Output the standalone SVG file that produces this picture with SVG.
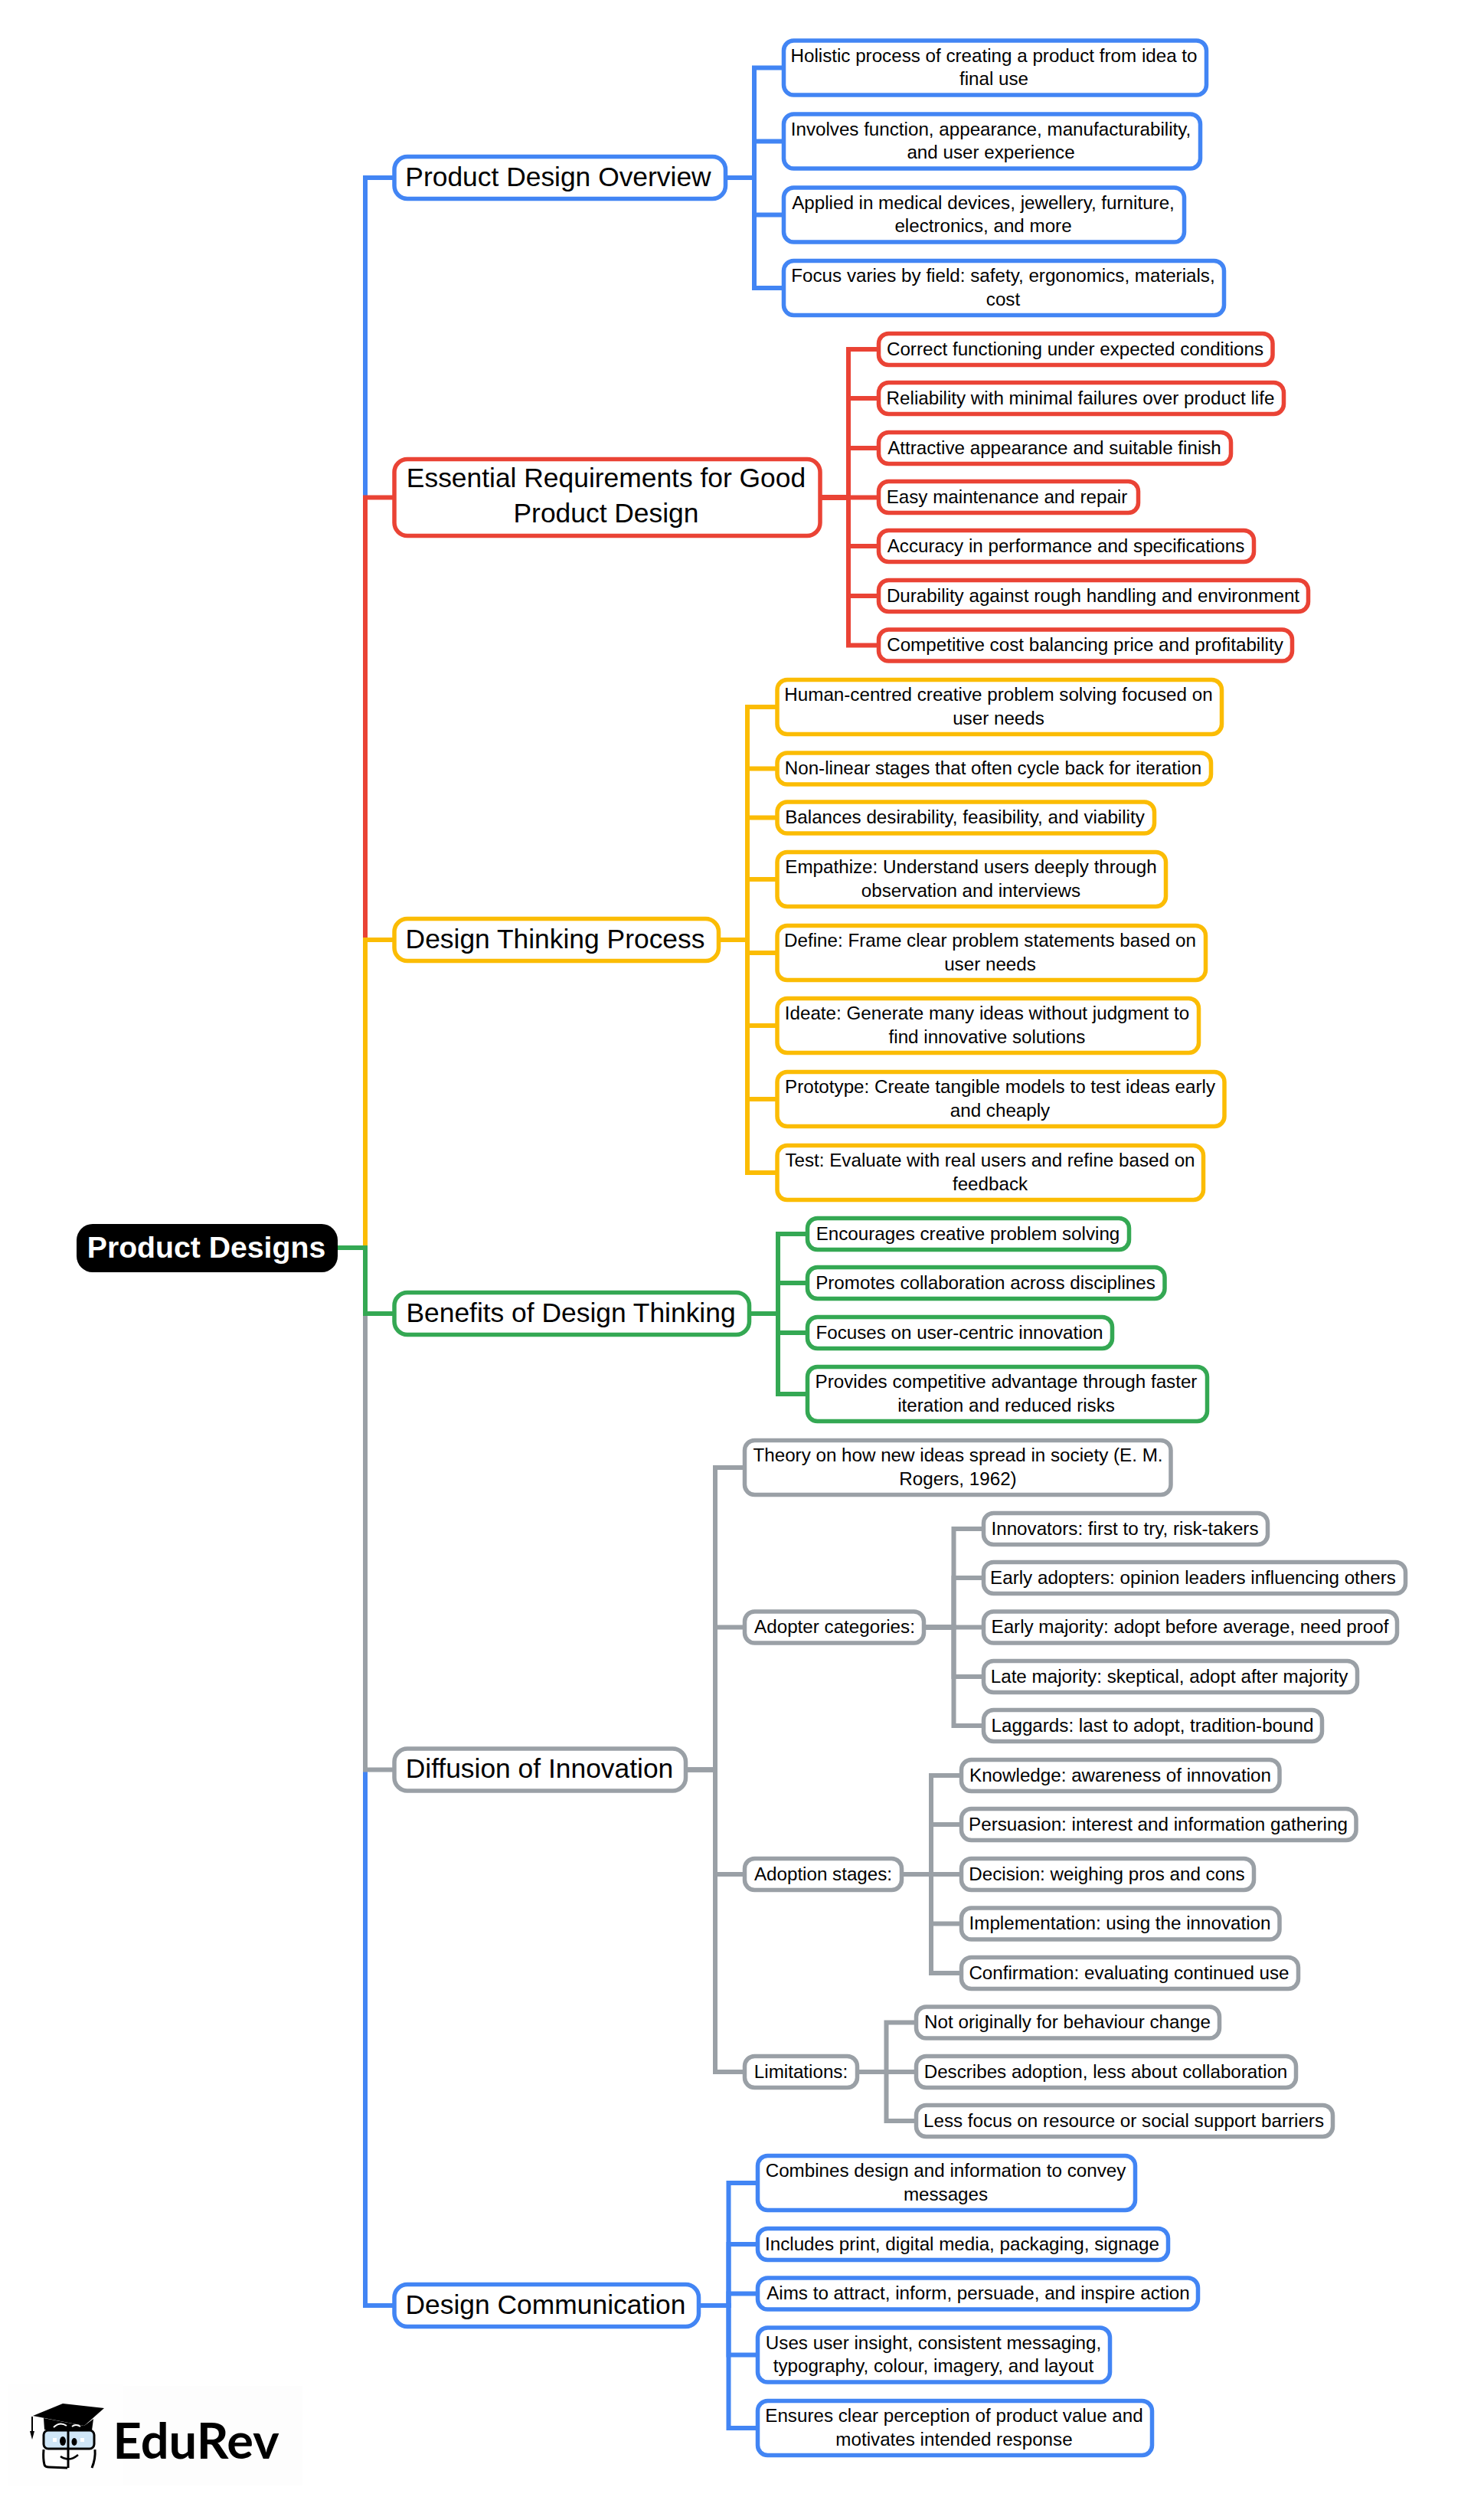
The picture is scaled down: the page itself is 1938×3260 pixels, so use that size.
<svg xmlns="http://www.w3.org/2000/svg" width="1938" height="3260" viewBox="0 0 1938 3260">
<style>
text{font-family:"Liberation Sans",Arial,sans-serif;fill:#000;text-anchor:middle}
.t{font-size:24.2px;transform:translateY(.8px)}
.h{font-size:35.4px}
.root{font-size:39.2px;font-weight:700;fill:#fff}
.n{fill:#fff;stroke-width:5.5}
.c{fill:none;stroke-width:6;stroke-linejoin:miter}
.blue{stroke:#4285F4}.red{stroke:#EA4335}.yellow{stroke:#FBBC04}.green{stroke:#34A853}.gray{stroke:#9AA0A6}
</style>
<rect width="1938" height="3260" fill="#fff"/>
<g id="connectors">
<path class="c blue" d="M441 1629H477V232H515"/>
<path class="c blue" d="M441 1629H477V3010H515"/>
<path class="c red" d="M441 1629H477V649.5H515"/>
<path class="c yellow" d="M441 1629H477V1227H515"/>
<path class="c gray" d="M441 1629H477V2310.5H515"/>
<path class="c green" d="M441 1629H477V1715H515"/>
<path class="c blue" d="M949 232H985V88.5H1024"/>
<path class="c blue" d="M949 232H985V184.5H1024"/>
<path class="c blue" d="M949 232H985V280.5H1024"/>
<path class="c blue" d="M949 232H985V376H1024"/>
<path class="c red" d="M1072 649.5H1108V456H1148"/>
<path class="c red" d="M1072 649.5H1108V520H1148"/>
<path class="c red" d="M1072 649.5H1108V585H1148"/>
<path class="c red" d="M1072 649.5H1148"/>
<path class="c red" d="M1072 649.5H1108V713H1148"/>
<path class="c red" d="M1072 649.5H1108V778H1148"/>
<path class="c red" d="M1072 649.5H1108V842.5H1148"/>
<path class="c yellow" d="M940 1227H976V923H1015"/>
<path class="c yellow" d="M940 1227H976V1003.5H1015"/>
<path class="c yellow" d="M940 1227H976V1067.5H1015"/>
<path class="c yellow" d="M940 1227H976V1148H1015"/>
<path class="c yellow" d="M940 1227H976V1244H1015"/>
<path class="c yellow" d="M940 1227H976V1339H1015"/>
<path class="c yellow" d="M940 1227H976V1435H1015"/>
<path class="c yellow" d="M940 1227H976V1531H1015"/>
<path class="c green" d="M980 1715H1016V1611H1055"/>
<path class="c green" d="M980 1715H1016V1675H1055"/>
<path class="c green" d="M980 1715H1016V1740H1055"/>
<path class="c green" d="M980 1715H1016V1820H1055"/>
<path class="c gray" d="M897 2310.5H934V1916H973"/>
<path class="c gray" d="M897 2310.5H934V2124.5H973"/>
<path class="c gray" d="M897 2310.5H934V2447H973"/>
<path class="c gray" d="M897 2310.5H934V2705H973"/>
<path class="c gray" d="M1208 2124.5H1245.5V1996H1285"/>
<path class="c gray" d="M1208 2124.5H1245.5V2060H1285"/>
<path class="c gray" d="M1208 2124.5H1285"/>
<path class="c gray" d="M1208 2124.5H1245.5V2189H1285"/>
<path class="c gray" d="M1208 2124.5H1245.5V2253H1285"/>
<path class="c gray" d="M1179 2447H1216V2318H1256"/>
<path class="c gray" d="M1179 2447H1216V2382H1256"/>
<path class="c gray" d="M1179 2447H1256"/>
<path class="c gray" d="M1179 2447H1216V2511.5H1256"/>
<path class="c gray" d="M1179 2447H1216V2576H1256"/>
<path class="c gray" d="M1121 2705H1157.5V2640.5H1197"/>
<path class="c gray" d="M1121 2705H1197"/>
<path class="c gray" d="M1121 2705H1157.5V2769H1197"/>
<path class="c blue" d="M914 3010H951.5V2850H990"/>
<path class="c blue" d="M914 3010H951.5V2930H990"/>
<path class="c blue" d="M914 3010H951.5V2994.5H990"/>
<path class="c blue" d="M914 3010H951.5V3074.5H990"/>
<path class="c blue" d="M914 3010H951.5V3170H990"/>
</g>
<g id="root"><rect x="100" y="1598" width="341" height="63" rx="21" fill="#000"/><text class="root" x="269.5" y="1642">Product Designs</text></g>

<g id="overview"><rect class="n blue" x="515" y="204.5" width="432.5" height="55" rx="17"/><text class="h" x="729" y="242.5">Product Design Overview</text></g>
<g id="o1"><rect class="n blue" x="1023.5" y="53" width="552" height="71" rx="13"/><text class="t" x="1298" y="80">Holistic process of creating a product from idea to</text><text class="t" x="1298" y="110.5">final use</text></g>
<g id="o2"><rect class="n blue" x="1023.5" y="149" width="544" height="71" rx="13"/><text class="t" x="1294" y="176">Involves function, appearance, manufacturability,</text><text class="t" x="1294" y="206.5">and user experience</text></g>
<g id="o3"><rect class="n blue" x="1023.5" y="245" width="523" height="71" rx="13"/><text class="t" x="1284" y="272">Applied in medical devices, jewellery, furniture,</text><text class="t" x="1284" y="302.5">electronics, and more</text></g>
<g id="o4"><rect class="n blue" x="1023.5" y="340.5" width="575" height="71" rx="13"/><text class="t" x="1310" y="367.5">Focus varies by field: safety, ergonomics, materials,</text><text class="t" x="1310" y="398">cost</text></g>

<g id="essential"><rect class="n red" x="515" y="599.5" width="556" height="100" rx="17"/><text class="h" x="791.5" y="636">Essential Requirements for Good</text><text class="h" x="791.5" y="682">Product Design</text></g>
<g id="e1"><rect class="n red" x="1147.5" y="435.5" width="514.5" height="41" rx="13"/><text class="t" x="1404" y="463">Correct functioning under expected conditions</text></g>
<g id="e2"><rect class="n red" x="1147.5" y="499.5" width="529" height="41" rx="13"/><text class="t" x="1411" y="527">Reliability with minimal failures over product life</text></g>
<g id="e3"><rect class="n red" x="1147.5" y="564.5" width="460" height="41" rx="13"/><text class="t" x="1377" y="592">Attractive appearance and suitable finish</text></g>
<g id="e4"><rect class="n red" x="1147.5" y="628.5" width="339" height="41" rx="13"/><text class="t" x="1315" y="656">Easy maintenance and repair</text></g>
<g id="e5"><rect class="n red" x="1147.5" y="692.5" width="490" height="41" rx="13"/><text class="t" x="1392" y="720">Accuracy in performance and specifications</text></g>
<g id="e6"><rect class="n red" x="1147.5" y="757.5" width="561" height="41" rx="13"/><text class="t" x="1427.5" y="785">Durability against rough handling and environment</text></g>
<g id="e7"><rect class="n red" x="1147.5" y="822" width="540" height="41" rx="13"/><text class="t" x="1417" y="849.5">Competitive cost balancing price and profitability</text></g>

<g id="thinking"><rect class="n yellow" x="515" y="1199.5" width="423.5" height="55" rx="17"/><text class="h" x="725" y="1237.5">Design Thinking Process</text></g>
<g id="y1"><rect class="n yellow" x="1015" y="887.5" width="580.5" height="71" rx="13"/><text class="t" x="1304" y="914.5">Human-centred creative problem solving focused on</text><text class="t" x="1304" y="945">user needs</text></g>
<g id="y2"><rect class="n yellow" x="1015" y="983" width="566.5" height="41" rx="13"/><text class="t" x="1297" y="1010.5">Non-linear stages that often cycle back for iteration</text></g>
<g id="y3"><rect class="n yellow" x="1015" y="1047" width="492.5" height="41" rx="13"/><text class="t" x="1260" y="1074.5">Balances desirability, feasibility, and viability</text></g>
<g id="y4"><rect class="n yellow" x="1015" y="1112.5" width="507.5" height="71" rx="13"/><text class="t" x="1268" y="1139.5">Empathize: Understand users deeply through</text><text class="t" x="1268" y="1170">observation and interviews</text></g>
<g id="y5"><rect class="n yellow" x="1015" y="1208.5" width="559.5" height="71" rx="13"/><text class="t" x="1293" y="1235.5">Define: Frame clear problem statements based on</text><text class="t" x="1293" y="1266">user needs</text></g>
<g id="y6"><rect class="n yellow" x="1015" y="1303.5" width="550.5" height="71" rx="13"/><text class="t" x="1289" y="1330.5">Ideate: Generate many ideas without judgment to</text><text class="t" x="1289" y="1361">find innovative solutions</text></g>
<g id="y7"><rect class="n yellow" x="1015" y="1399.5" width="584" height="71" rx="13"/><text class="t" x="1306" y="1426.5">Prototype: Create tangible models to test ideas early</text><text class="t" x="1306" y="1457">and cheaply</text></g>
<g id="y8"><rect class="n yellow" x="1015" y="1495.5" width="556.5" height="71" rx="13"/><text class="t" x="1293" y="1522.5">Test: Evaluate with real users and refine based on</text><text class="t" x="1293" y="1553">feedback</text></g>

<g id="benefits"><rect class="n green" x="515" y="1687.5" width="463.5" height="55" rx="17"/><text class="h" x="745.5" y="1725.5">Benefits of Design Thinking</text></g>
<g id="g1"><rect class="n green" x="1054.5" y="1590.5" width="420" height="41" rx="13"/><text class="t" x="1264" y="1618">Encourages creative problem solving</text></g>
<g id="g2"><rect class="n green" x="1054.5" y="1654.5" width="466.5" height="41" rx="13"/><text class="t" x="1287" y="1682">Promotes collaboration across disciplines</text></g>
<g id="g3"><rect class="n green" x="1054.5" y="1719.5" width="398" height="41" rx="13"/><text class="t" x="1253" y="1747">Focuses on user-centric innovation</text></g>
<g id="g4"><rect class="n green" x="1054.5" y="1784.5" width="522" height="71" rx="13"/><text class="t" x="1314" y="1811.5">Provides competitive advantage through faster</text><text class="t" x="1314" y="1842">iteration and reduced risks</text></g>

<g id="diffusion"><rect class="n gray" x="515" y="2283" width="380.5" height="55" rx="17"/><text class="h" x="704.5" y="2321">Diffusion of Innovation</text></g>
<g id="d1"><rect class="n gray" x="972.5" y="1880.5" width="556.5" height="71" rx="13"/><text class="t" x="1251" y="1907.5">Theory on how new ideas spread in society (E. M.</text><text class="t" x="1251" y="1938">Rogers, 1962)</text></g>
<g id="d2"><rect class="n gray" x="972.5" y="2104" width="234" height="41" rx="13"/><text class="t" x="1090" y="2131.5">Adopter categories:</text></g>
<g id="d21"><rect class="n gray" x="1284.5" y="1975.5" width="371" height="41" rx="13"/><text class="t" x="1469" y="2003">Innovators: first to try, risk-takers</text></g>
<g id="d22"><rect class="n gray" x="1284.5" y="2039.5" width="551" height="41" rx="13"/><text class="t" x="1558" y="2067">Early adopters: opinion leaders influencing others</text></g>
<g id="d23"><rect class="n gray" x="1284.5" y="2104" width="540" height="41" rx="13"/><text class="t" x="1554" y="2131.5">Early majority: adopt before average, need proof</text></g>
<g id="d24"><rect class="n gray" x="1284.5" y="2168.5" width="488" height="41" rx="13"/><text class="t" x="1527" y="2196">Late majority: skeptical, adopt after majority</text></g>
<g id="d25"><rect class="n gray" x="1284.5" y="2232.5" width="442" height="41" rx="13"/><text class="t" x="1505" y="2260">Laggards: last to adopt, tradition-bound</text></g>
<g id="d3"><rect class="n gray" x="972.5" y="2426.5" width="205" height="41" rx="13"/><text class="t" x="1075" y="2454">Adoption stages:</text></g>
<g id="d31"><rect class="n gray" x="1255.5" y="2297.5" width="415.5" height="41" rx="13"/><text class="t" x="1463" y="2325">Knowledge: awareness of innovation</text></g>
<g id="d32"><rect class="n gray" x="1255.5" y="2361.5" width="515.5" height="41" rx="13"/><text class="t" x="1512.5" y="2389">Persuasion: interest and information gathering</text></g>
<g id="d33"><rect class="n gray" x="1255.5" y="2426.5" width="382" height="41" rx="13"/><text class="t" x="1445.5" y="2454">Decision: weighing pros and cons</text></g>
<g id="d34"><rect class="n gray" x="1255.5" y="2491" width="415.5" height="41" rx="13"/><text class="t" x="1462.5" y="2518.5">Implementation: using the innovation</text></g>
<g id="d35"><rect class="n gray" x="1255.5" y="2555.5" width="440" height="41" rx="13"/><text class="t" x="1474.5" y="2583">Confirmation: evaluating continued use</text></g>
<g id="d4"><rect class="n gray" x="972.5" y="2684.5" width="147" height="41" rx="13"/><text class="t" x="1046" y="2712">Limitations:</text></g>
<g id="d41"><rect class="n gray" x="1196.5" y="2620" width="396" height="41" rx="13"/><text class="t" x="1394" y="2647.5">Not originally for behaviour change</text></g>
<g id="d42"><rect class="n gray" x="1196.5" y="2684.5" width="496" height="41" rx="13"/><text class="t" x="1444" y="2712">Describes adoption, less about collaboration</text></g>
<g id="d43"><rect class="n gray" x="1196.5" y="2748.5" width="544" height="41" rx="13"/><text class="t" x="1467.5" y="2776">Less focus on resource or social support barriers</text></g>

<g id="communication"><rect class="n blue" x="515" y="2982.5" width="397.5" height="55" rx="17"/><text class="h" x="712.5" y="3020.5">Design Communication</text></g>
<g id="c1"><rect class="n blue" x="989.5" y="2814.5" width="493" height="71" rx="13"/><text class="t" x="1235" y="2841.5">Combines design and information to convey</text><text class="t" x="1235" y="2872">messages</text></g>
<g id="c2"><rect class="n blue" x="989.5" y="2909.5" width="536" height="41" rx="13"/><text class="t" x="1256.5" y="2937">Includes print, digital media, packaging, signage</text></g>
<g id="c3"><rect class="n blue" x="989.5" y="2974" width="575" height="41" rx="13"/><text class="t" x="1277.5" y="3001.5">Aims to attract, inform, persuade, and inspire action</text></g>
<g id="c4"><rect class="n blue" x="989.5" y="3039" width="460" height="71" rx="13"/><text class="t" x="1219" y="3066">Uses user insight, consistent messaging,</text><text class="t" x="1219" y="3096.5">typography, colour, imagery, and layout</text></g>
<g id="c5"><rect class="n blue" x="989.5" y="3134.5" width="515" height="71" rx="13"/><text class="t" x="1246" y="3161.5">Ensures clear perception of product value and</text><text class="t" x="1246" y="3192">motivates intended response</text></g>

<g id="logo">
<rect x="10" y="3112" width="150" height="133" fill="#fefefe"/>
<rect x="160" y="3115" width="235" height="130" fill="#fdfdfd"/>
<path d="M57 3157L110 3167L122 3158L120 3173L58 3172Z" fill="#000"/>
<path d="M82 3138L136 3144L110 3167L43 3154Z" fill="#000"/>
<path d="M42 3155V3175" stroke="#000" stroke-width="2" fill="none"/>
<path d="M39 3174H45L42 3185Z" fill="#000"/>
<path d="M70 3169Q78 3161 87 3167M94 3168Q99 3164 105 3168" stroke="#fff" stroke-width="2" fill="none"/>
<rect x="57" y="3173" width="66" height="24" rx="6" fill="#cfe6f7" stroke="#000" stroke-width="3"/>
<path d="M57 3198Q56 3210 58 3218Q59 3221 64 3221L88 3222M124 3198Q125 3210 120 3222" stroke="#000" stroke-width="3" fill="none"/>
<path d="M89 3172V3222" stroke="#000" stroke-width="3" fill="none"/>
<ellipse cx="82" cy="3187" rx="4" ry="6" fill="#000"/>
<ellipse cx="97" cy="3188" rx="3.5" ry="5" fill="#000"/>
<path d="M69 3183h5v5h-5zM105 3183h5v5h-5z" fill="#fff"/>
<path d="M79 3207Q90 3215 102 3205" stroke="#000" stroke-width="2.5" fill="none"/>
<text x="256" y="3210" style="font-family:Lato,'Liberation Sans',sans-serif;font-size:65px;font-weight:700">EduRev</text>
</g>
</svg>
